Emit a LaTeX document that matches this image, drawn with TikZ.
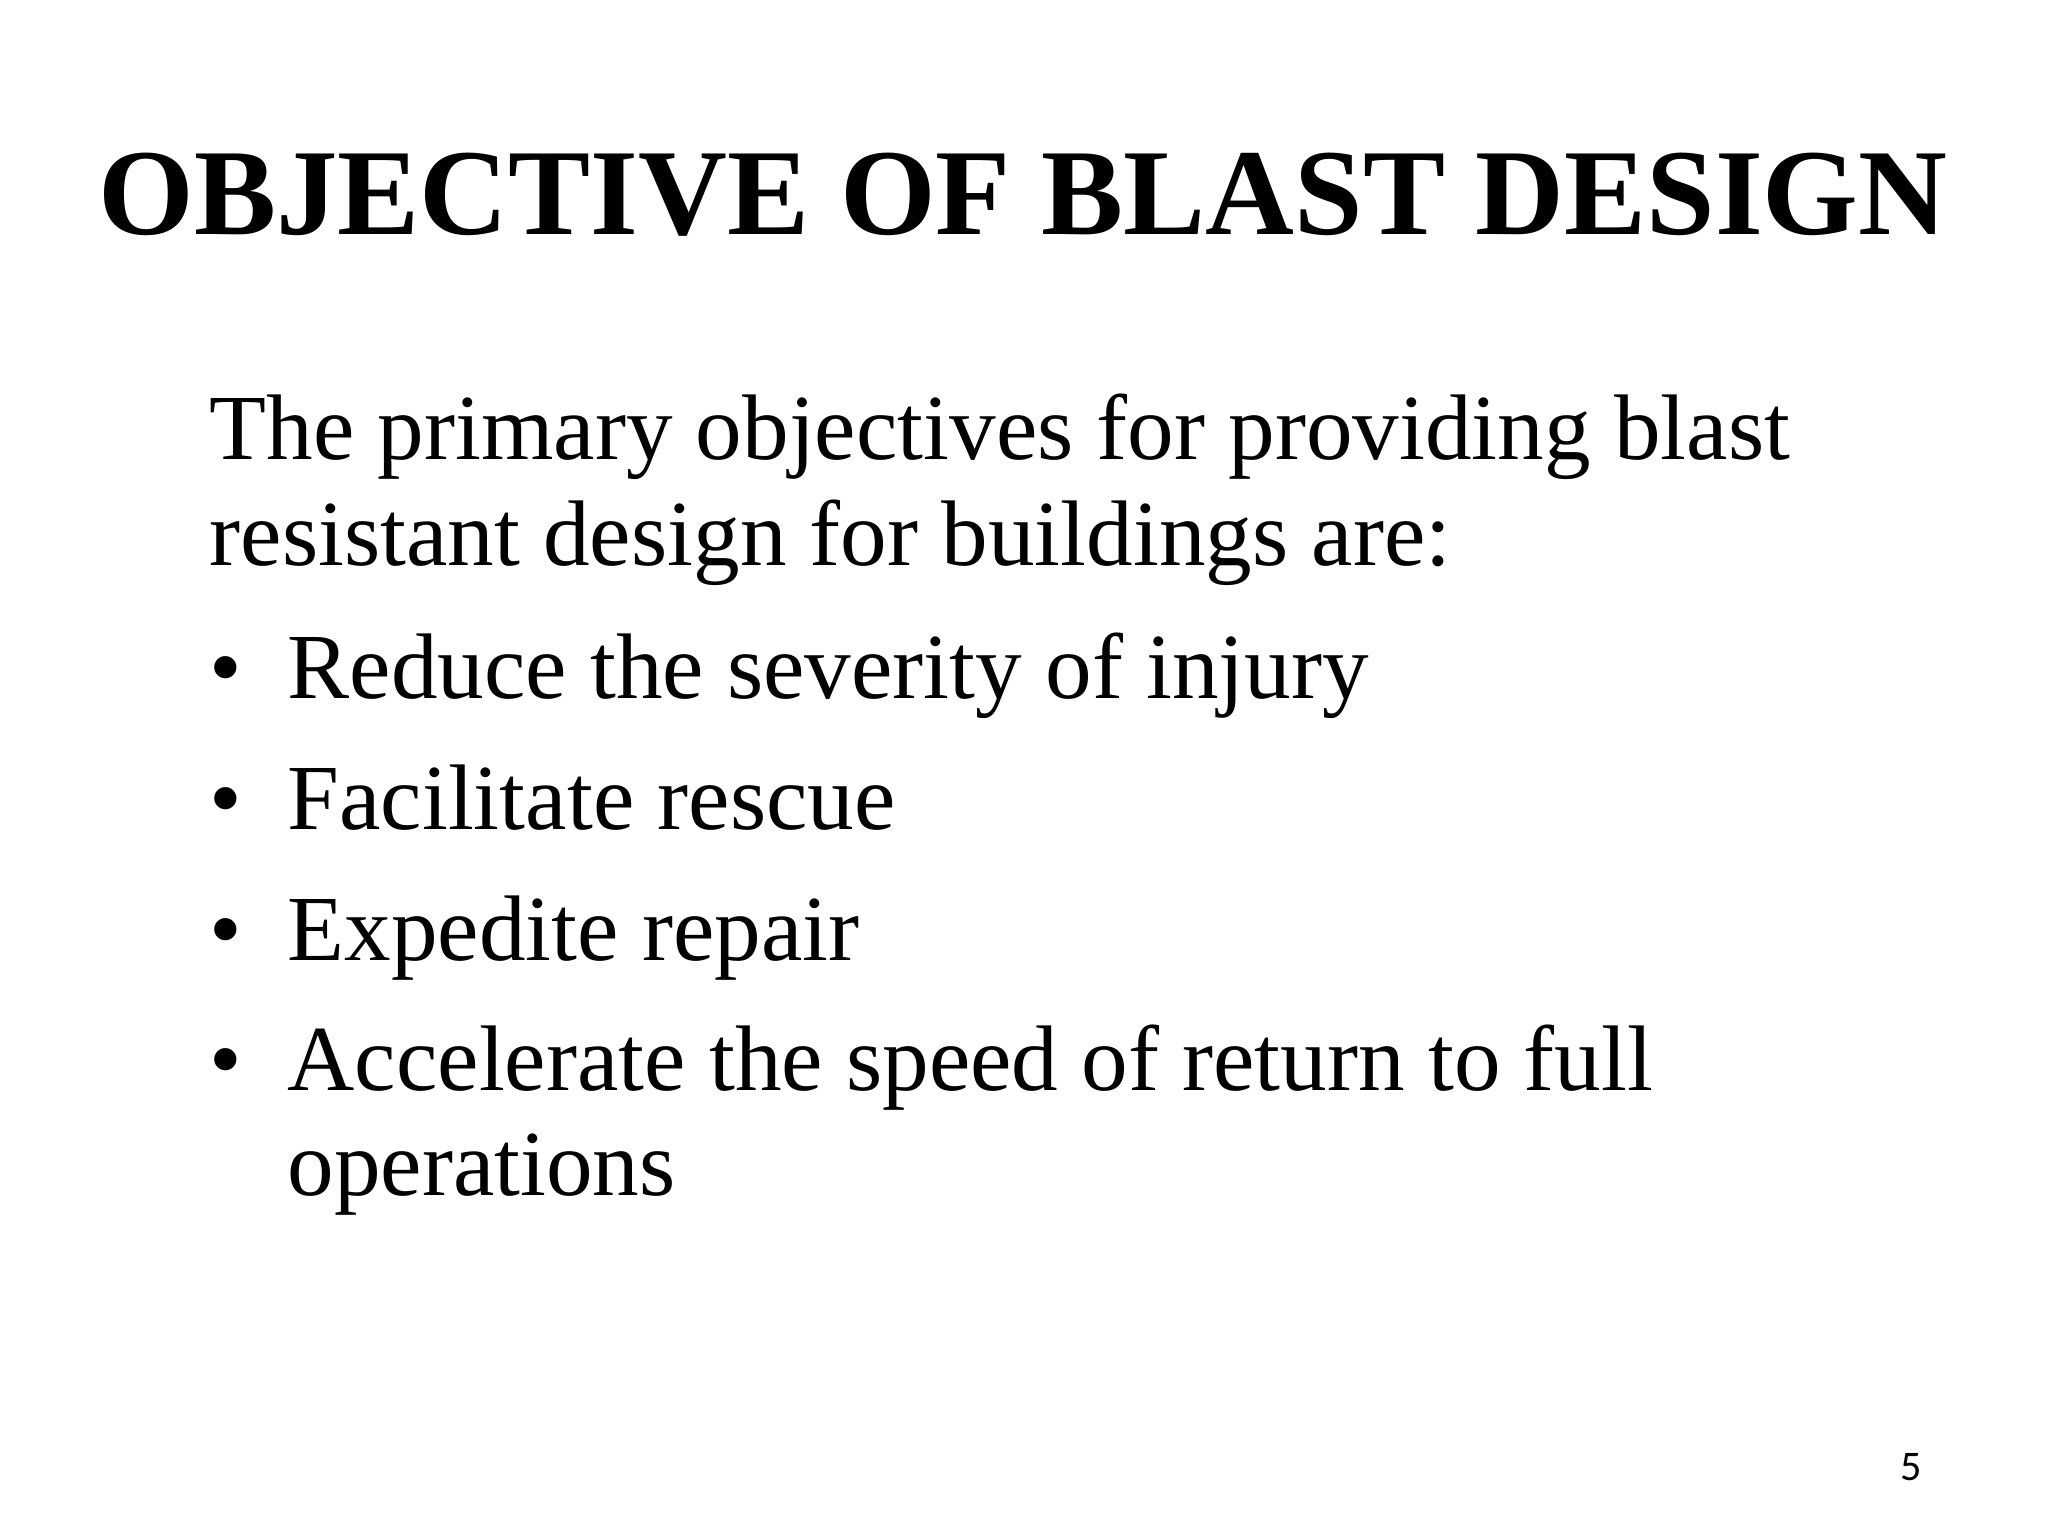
\documentclass[tikz,border=0pt]{standalone}
\usepackage{fontspec}
\setmainfont{Liberation Serif}
\newfontfamily\numfont{Carlito}
\begin{document}
\begin{tikzpicture}[x=1cm,y=1cm,
  body/.style={anchor=base west,inner sep=0pt,font=\fontsize{26.5pt}{30pt}\selectfont},
  bul/.style={anchor=base west,inner sep=0pt,font=\fontsize{26.5pt}{30pt}\selectfont}]
\useasboundingbox (0,0) rectangle (20.48,-15.36);
\fill[white] (0,0) rectangle (20.48,-15.36);
\node[anchor=base,inner sep=0pt,font=\fontsize{35pt}{40pt}\selectfont\bfseries] (title) at (10.23,-2.35) {OBJECTIVE OF BLAST DESIGN};
\node[body] (l1) at (2.09,-4.60) {The primary objectives for providing blast};
\node[body] (l2) at (2.09,-5.66) {resistant design for buildings are:};
\node[bul] (b1) at (2.09,-6.99) {\textbullet};
\node[body] (t1) at (2.87,-6.99) {Reduce the severity of injury};
\node[bul] (b2) at (2.09,-8.29) {\textbullet};
\node[body] (t2) at (2.87,-8.29) {Facilitate rescue};
\node[bul] (b3) at (2.09,-9.60) {\textbullet};
\node[body] (t3) at (2.87,-9.60) {Expedite repair};
\node[bul] (b4) at (2.09,-10.90) {\textbullet};
\node[body] (t4) at (2.87,-10.90) {Accelerate the speed of return to full};
\node[body] (t5) at (2.87,-11.95) {operations};
\node[anchor=base,inner sep=0pt,font=\numfont\fontsize{12pt}{14pt}\selectfont] (pg) at (19.11,-14.80) {5};
\end{tikzpicture}
\end{document}
